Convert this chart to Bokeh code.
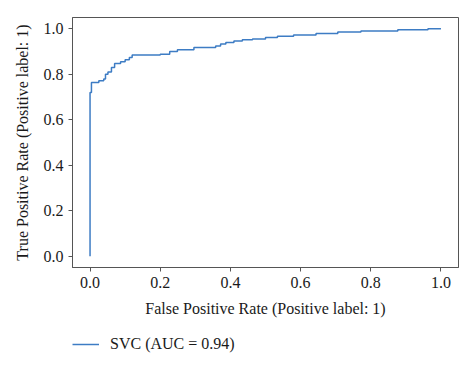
from bokeh.plotting import figure
from bokeh.layouts import column
from bokeh.models import Range1d, FixedTicker, PrintfTickFormatter, Legend, LegendItem
from bokeh.embed import file_html
from bokeh.resources import INLINE

# ROC curve corner points (FPR, TPR)
rise_fpr = [0.0, 0.004, 0.025, 0.039, 0.044, 0.051, 0.061, 0.070, 0.087, 0.100,
            0.112, 0.120, 0.200, 0.227, 0.249, 0.296, 0.358, 0.372, 0.387, 0.410,
            0.434, 0.463, 0.500, 0.534, 0.580, 0.644, 0.706, 0.772, 0.877, 0.963]
rise_tpr = [0.720, 0.764, 0.772, 0.779, 0.800, 0.810, 0.830, 0.848, 0.855, 0.864,
            0.874, 0.885, 0.888, 0.900, 0.908, 0.918, 0.925, 0.933, 0.940, 0.947,
            0.952, 0.955, 0.962, 0.968, 0.973, 0.980, 0.986, 0.991, 0.996, 1.000]
end_fpr = 1.0
label = "SVC (AUC = 0.94)"
xticks = [0.0, 0.2, 0.4, 0.6, 0.8, 1.0]
yticks = [0.0, 0.2, 0.4, 0.6, 0.8, 1.0]

fpr = [0.0]
tpr = [0.0]
for f, t in zip(rise_fpr, rise_tpr):
    fpr += [f, f]
    tpr += [tpr[-1], t]
fpr.append(end_fpr)
tpr.append(tpr[-1])

FONT = "Liberation Serif"
TXT = "#1a1a1a"
AX = "#555555"
LINE = "#3d7cc4"

p = figure(width=474, height=330, output_backend="svg", toolbar_location=None,
           x_range=Range1d(-0.05, 1.05), y_range=Range1d(-0.05, 1.05),
           min_border_left=72, min_border_right=16, min_border_top=17, min_border_bottom=63)
p.xgrid.visible = False
p.ygrid.visible = False
p.outline_line_color = AX
p.outline_line_width = 1
p.outline_line_alpha = 1

r = p.line(fpr, tpr, line_color=LINE, line_width=1.5)

for ax, ticks in ((p.xaxis[0], xticks), (p.yaxis[0], yticks)):
    ax.ticker = FixedTicker(ticks=ticks)
    ax.formatter = PrintfTickFormatter(format="%.1f")
    ax.minor_tick_line_color = None
    ax.major_tick_in = 0
    ax.major_tick_out = 4
    ax.major_tick_line_color = AX
    ax.axis_line_color = AX
    ax.major_label_text_font = FONT
    ax.major_label_text_font_size = "16px"
    ax.major_label_text_color = TXT
    ax.axis_label_text_font = FONT
    ax.axis_label_text_font_size = "16px"
    ax.axis_label_text_font_style = "normal"
    ax.axis_label_text_color = TXT

p.xaxis.axis_label = "False Positive Rate (Positive label: 1)"
p.yaxis.axis_label = "True Positive Rate (Positive label: 1)"
p.xaxis.major_label_standoff = 5
p.yaxis.major_label_standoff = 5
p.xaxis.axis_label_standoff = 9
p.yaxis.axis_label_standoff = 10

# legend strip below the plot (its curve lies outside the strip's visible range)
lg = figure(width=474, height=38, output_backend="svg", toolbar_location=None,
            x_axis_type=None, y_axis_type=None, min_border=0,
            x_range=Range1d(5, 6), y_range=Range1d(5, 6))
lg.xgrid.visible = False
lg.ygrid.visible = False
lg.outline_line_color = None
lr = lg.line(fpr, tpr, line_color=LINE, line_width=1.5)
legend = Legend(items=[LegendItem(label=label, renderers=[lr])],
                location=(0, 14), padding=0, margin=0, border_line_alpha=0,
                background_fill_alpha=0, glyph_width=27, glyph_height=20,
                label_height=20, label_standoff=11, label_text_font=FONT,
                label_text_font_size="16px", label_text_color=TXT)
lg.add_layout(legend, "center")

layout = column(p, lg, spacing=0)
open("out.html", "w").write(file_html(layout, INLINE))
